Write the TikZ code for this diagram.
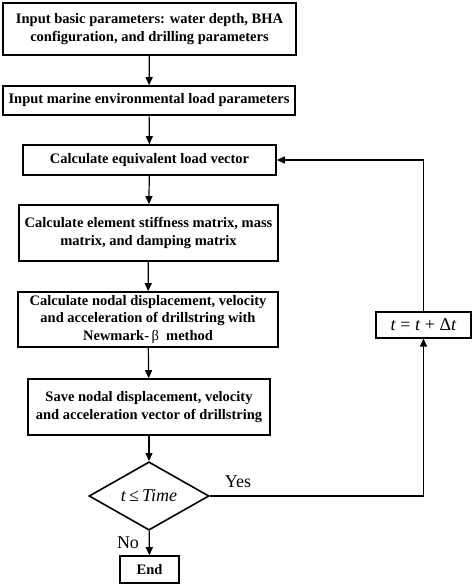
\documentclass[tikz,border=0pt]{standalone}
\usepackage{fontspec}
\setmainfont{Liberation Serif}
\usetikzlibrary{arrows.meta,shapes.geometric}

\begin{document}
\begin{tikzpicture}[x=1pt,y=-1pt,line width=1.2pt,
  stepbox/.style={draw,line width=1.6pt,align=center,inner sep=2pt,
    font=\fontsize{14.5}{17.5}\selectfont\bfseries},
  flow/.style={-{Triangle[length=8pt,width=7pt]}},
  lbl/.style={font=\fontsize{18}{20}\selectfont}]
  \useasboundingbox (0,0) rectangle (474,586);
  % main column
  \node[stepbox,minimum width=293pt,minimum height=52pt] (inp) at (149.5,29)
    {Input basic parameters: water depth, BHA\\configuration, and drilling parameters};
  \node[stepbox,minimum width=292pt,minimum height=29pt] (env) at (149,100.5)
    {Input marine environmental load parameters};
  \node[stepbox,minimum width=253pt,minimum height=30pt] (load) at (149.5,160)
    {Calculate equivalent load vector};
  \node[stepbox,minimum width=259pt,minimum height=56pt] (mat) at (148.5,233)
    {Calculate element stiffness matrix, mass\\matrix, and damping matrix};
  \node[stepbox,minimum width=260pt,minimum height=55pt] (newm) at (148,319.5)
    {Calculate nodal displacement, velocity\\and acceleration of drillstring with\\Newmark-\,{\mdseries β}\ \ method};
  \node[stepbox,minimum width=242pt,minimum height=56pt] (save) at (149,407)
    {Save nodal displacement, velocity\\and acceleration vector of drillstring};
  \node[draw,line width=1.6pt,diamond,inner sep=0pt,minimum width=120pt,minimum height=58pt,
    lbl] (chk) at (149,496) {\textit{t}\,≤\,\textit{Time}};
  \node[stepbox,minimum width=59pt,minimum height=27pt] (fin) at (149.5,569.5) {End};
  % time step
  \node[draw,lbl,minimum width=95pt,minimum height=26pt,inner sep=1pt] (tinc) at (423.5,325)
    {\textit{t} = \textit{t} + Δ\textit{t}};

  \draw[flow] (inp) -- (env);
  \draw[flow] (env) -- (load);
  \draw[flow] (load) -- (mat);
  \draw[flow] (mat) -- (newm);
  \draw[flow] (newm) -- (save);
  \draw[flow] (save) -- (chk);
  \draw[flow] (chk) -- (fin);
  \draw[flow] (chk.east) -- (chk.east -| tinc) -- (tinc.south);
  \draw[flow] (tinc.north) |- (load.east);
  \node[lbl] (yes) at (238,482) {Yes};
  \node[lbl] (no) at (128,543) {No};
\end{tikzpicture}
\end{document}
